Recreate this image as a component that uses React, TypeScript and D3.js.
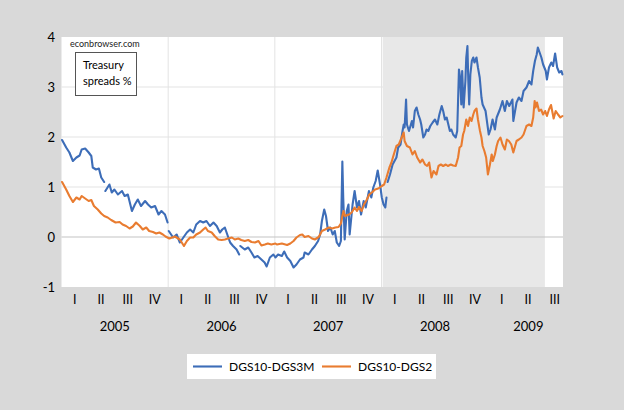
import React from "react";
import * as d3 from "d3";

// 10-year minus 3-month Treasury spread (percentage points); null = missing day
const dgs10Dgs3m: [string, number | null][] = [
  ["2005-01-03", 1.94], ["2005-01-17", 1.79], ["2005-01-28", 1.69], ["2005-02-09", 1.52],
  ["2005-02-21", 1.59], ["2005-03-04", 1.63], ["2005-03-11", 1.75], ["2005-03-23", 1.77],
  ["2005-04-04", 1.69], ["2005-04-13", 1.62], ["2005-04-18", 1.39], ["2005-04-29", 1.35],
  ["2005-05-09", 1.37], ["2005-05-17", 1.19], ["2005-05-27", 1.10], ["2005-05-30", null],
  ["2005-05-31", 0.92], ["2005-06-14", 1.05], ["2005-06-22", 0.89], ["2005-07-01", 0.95],
  ["2005-07-13", 0.85], ["2005-07-27", 0.92], ["2005-08-05", 0.82], ["2005-08-16", 0.85],
  ["2005-08-30", 0.52], ["2005-09-09", 0.65], ["2005-09-19", 0.75], ["2005-09-30", 0.62],
  ["2005-10-14", 0.72], ["2005-10-24", 0.65], ["2005-11-04", 0.59], ["2005-11-17", 0.62],
  ["2005-11-29", 0.45], ["2005-12-09", 0.52], ["2005-12-21", 0.45], ["2005-12-30", 0.29],
  ["2006-01-02", null],
  ["2006-01-03", 0.12], ["2006-01-18", -0.01], ["2006-01-30", 0.05], ["2006-02-10", -0.11],
  ["2006-02-22", -0.01], ["2006-03-06", 0.09], ["2006-03-17", 0.15], ["2006-03-28", 0.09],
  ["2006-04-07", 0.25], ["2006-04-20", 0.32], ["2006-05-01", 0.29], ["2006-05-12", 0.32],
  ["2006-05-24", 0.22], ["2006-06-05", 0.29], ["2006-06-16", 0.22], ["2006-06-27", 0.09],
  ["2006-07-05", 0.15], ["2006-07-14", 0.19], ["2006-07-24", 0.02], ["2006-08-01", -0.11],
  ["2006-08-11", -0.18], ["2006-08-23", -0.25], ["2006-09-01", -0.35], ["2006-09-04", null],
  ["2006-09-05", -0.18], ["2006-09-20", -0.25], ["2006-10-02", -0.21], ["2006-10-13", -0.31],
  ["2006-10-23", -0.41], ["2006-11-03", -0.38], ["2006-11-16", -0.45], ["2006-11-27", -0.51],
  ["2006-12-04", -0.59], ["2006-12-15", -0.41], ["2006-12-27", -0.35],
  ["2007-01-03", -0.41], ["2007-01-12", -0.35], ["2007-01-25", -0.38], ["2007-02-02", -0.29],
  ["2007-02-12", -0.41], ["2007-02-23", -0.48], ["2007-03-06", -0.61], ["2007-03-16", -0.55],
  ["2007-03-28", -0.45], ["2007-04-09", -0.41], ["2007-04-13", -0.31], ["2007-04-26", -0.35],
  ["2007-05-08", -0.25], ["2007-05-18", -0.18], ["2007-05-29", -0.08], ["2007-06-05", 0.05],
  ["2007-06-11", 0.32], ["2007-06-19", 0.55], ["2007-06-25", 0.42], ["2007-07-02", 0.12],
  ["2007-07-10", 0.19], ["2007-07-18", 0.05], ["2007-07-25", 0.12], ["2007-08-01", -0.11],
  ["2007-08-09", -0.18], ["2007-08-15", -0.08], ["2007-08-17", 0.59], ["2007-08-20", 1.51],
  ["2007-08-23", 0.79], ["2007-08-28", -0.05], ["2007-09-04", 0.52], ["2007-09-10", 0.65],
  ["2007-09-14", 0.05], ["2007-09-24", 0.65], ["2007-10-01", 0.92], ["2007-10-09", 0.59],
  ["2007-10-16", 0.72], ["2007-10-23", 0.45], ["2007-11-01", 0.72], ["2007-11-08", 0.59],
  ["2007-11-19", 0.92], ["2007-11-27", 0.79], ["2007-12-04", 0.99], ["2007-12-12", 1.12],
  ["2007-12-19", 1.33], ["2007-12-27", 1.05],
  ["2008-01-02", 0.79], ["2008-01-08", 0.65], ["2008-01-14", 0.59], ["2008-01-18", 0.79],
  ["2008-01-21", null],
  ["2008-01-22", 1.10], ["2008-01-30", 1.25], ["2008-02-08", 1.45], ["2008-02-21", 1.59],
  ["2008-02-27", 1.79], ["2008-03-06", 1.85], ["2008-03-13", 2.12], ["2008-03-17", 2.25],
  ["2008-03-20", 2.19], ["2008-03-25", 2.75], ["2008-03-28", 2.25], ["2008-04-04", 2.12],
  ["2008-04-14", 2.32], ["2008-04-18", 2.19], ["2008-04-24", 2.52], ["2008-04-30", 2.59],
  ["2008-05-06", 2.45], ["2008-05-12", 2.35], ["2008-05-16", 2.25], ["2008-05-23", 1.99],
  ["2008-05-29", 2.05], ["2008-06-03", 2.15], ["2008-06-09", 2.12], ["2008-06-16", 2.22],
  ["2008-06-24", 2.29], ["2008-07-02", 2.35], ["2008-07-10", 2.25], ["2008-07-17", 2.45],
  ["2008-07-25", 2.62], ["2008-07-30", 2.52], ["2008-08-05", 2.35], ["2008-08-11", 2.39],
  ["2008-08-15", 2.29], ["2008-08-22", 2.12], ["2008-08-27", 2.15], ["2008-09-02", 2.05],
  ["2008-09-11", 1.99], ["2008-09-16", 2.12], ["2008-09-22", 3.35], ["2008-09-26", 3.19],
  ["2008-09-30", 2.65], ["2008-10-03", 3.32], ["2008-10-08", 2.59], ["2008-10-14", 3.12],
  ["2008-10-17", 3.59], ["2008-10-21", 3.82], ["2008-10-24", 3.12], ["2008-10-27", 2.65],
  ["2008-10-31", 3.25], ["2008-11-05", 3.52], ["2008-11-10", 3.59], ["2008-11-14", 3.49],
  ["2008-11-21", 3.59], ["2008-11-26", 3.39], ["2008-12-02", 3.19], ["2008-12-08", 2.79],
  ["2008-12-12", 2.65], ["2008-12-22", 2.52], ["2008-12-29", 2.22],
  ["2009-01-02", 2.05], ["2009-01-08", 2.15], ["2009-01-15", 2.35], ["2009-01-23", 2.15],
  ["2009-01-29", 2.39], ["2009-02-09", 2.55], ["2009-02-18", 2.72], ["2009-02-26", 2.52],
  ["2009-03-05", 2.72], ["2009-03-13", 2.62], ["2009-03-24", 2.75], ["2009-03-27", 2.32],
  ["2009-04-07", 2.69], ["2009-04-15", 2.79], ["2009-04-24", 2.72], ["2009-05-01", 2.92],
  ["2009-05-11", 2.99], ["2009-05-20", 3.12], ["2009-05-28", 3.05], ["2009-06-03", 3.32],
  ["2009-06-09", 3.52], ["2009-06-15", 3.65], ["2009-06-19", 3.79], ["2009-06-25", 3.69],
  ["2009-07-01", 3.59], ["2009-07-07", 3.45], ["2009-07-16", 3.32], ["2009-07-20", 3.15],
  ["2009-07-27", 3.39], ["2009-08-04", 3.49], ["2009-08-10", 3.42], ["2009-08-17", 3.67],
  ["2009-08-24", 3.39], ["2009-08-31", 3.29], ["2009-09-08", 3.32], ["2009-09-11", 3.25],
];

// 10-year minus 2-year Treasury spread (percentage points)
const dgs10Dgs2: [string, number | null][] = [
  ["2005-01-03", 1.10], ["2005-01-17", 0.95], ["2005-01-28", 0.82], ["2005-02-09", 0.70],
  ["2005-02-21", 0.79], ["2005-03-04", 0.75], ["2005-03-11", 0.82], ["2005-03-23", 0.77],
  ["2005-04-04", 0.72], ["2005-04-13", 0.74], ["2005-04-22", 0.62], ["2005-05-05", 0.55],
  ["2005-05-17", 0.47], ["2005-05-27", 0.42], ["2005-06-08", 0.39], ["2005-06-20", 0.34],
  ["2005-07-05", 0.29], ["2005-07-19", 0.30], ["2005-07-29", 0.25], ["2005-08-10", 0.22],
  ["2005-08-22", 0.17], ["2005-09-02", 0.21], ["2005-09-13", 0.29], ["2005-09-26", 0.22],
  ["2005-10-06", 0.15], ["2005-10-18", 0.19], ["2005-10-28", 0.12], ["2005-11-10", 0.10],
  ["2005-11-21", 0.07], ["2005-12-02", 0.09], ["2005-12-14", 0.05], ["2005-12-23", 0.01],
  ["2006-01-05", -0.03], ["2006-01-24", 0.01], ["2006-02-10", -0.05], ["2006-02-24", -0.18],
  ["2006-03-06", -0.08], ["2006-03-17", -0.01], ["2006-03-28", -0.01], ["2006-04-07", 0.05],
  ["2006-04-20", 0.09], ["2006-05-01", 0.15], ["2006-05-09", 0.19], ["2006-05-17", 0.12],
  ["2006-05-30", 0.09], ["2006-06-09", 0.02], ["2006-06-21", -0.05], ["2006-07-03", -0.06],
  ["2006-07-14", -0.05], ["2006-07-25", -0.03], ["2006-08-07", -0.01], ["2006-08-17", -0.05],
  ["2006-08-29", -0.03], ["2006-09-08", -0.06], ["2006-09-20", -0.08], ["2006-10-02", -0.06],
  ["2006-10-13", -0.10], ["2006-10-25", -0.11], ["2006-11-06", -0.08], ["2006-11-16", -0.17],
  ["2006-11-28", -0.15], ["2006-12-08", -0.13], ["2006-12-20", -0.15],
  ["2007-01-03", -0.13], ["2007-01-08", -0.15], ["2007-01-25", -0.13], ["2007-02-12", -0.16],
  ["2007-02-23", -0.13], ["2007-03-06", -0.08], ["2007-03-16", -0.01], ["2007-03-28", 0.04],
  ["2007-04-05", 0.05], ["2007-04-13", 0.00], ["2007-04-26", 0.02], ["2007-05-08", -0.03],
  ["2007-05-18", -0.05], ["2007-05-31", 0.00], ["2007-06-11", 0.12], ["2007-06-22", 0.15],
  ["2007-07-05", 0.19], ["2007-07-16", 0.17], ["2007-07-27", 0.19], ["2007-08-07", 0.20],
  ["2007-08-15", 0.27], ["2007-08-20", 0.42], ["2007-08-24", 0.52], ["2007-08-29", 0.42],
  ["2007-09-12", 0.45], ["2007-09-21", 0.49], ["2007-10-01", 0.59], ["2007-10-09", 0.52],
  ["2007-10-16", 0.60], ["2007-10-25", 0.52], ["2007-11-02", 0.65], ["2007-11-12", 0.75],
  ["2007-11-20", 0.85], ["2007-11-29", 0.89], ["2007-12-10", 0.95], ["2007-12-21", 0.97],
  ["2008-01-02", 1.02], ["2008-01-10", 1.05], ["2008-01-18", 1.19], ["2008-01-28", 1.39],
  ["2008-02-04", 1.49], ["2008-02-12", 1.65], ["2008-02-21", 1.82], ["2008-02-29", 1.85],
  ["2008-03-10", 1.99], ["2008-03-17", 2.09], ["2008-03-20", 1.92], ["2008-03-28", 1.82],
  ["2008-04-07", 1.79], ["2008-04-16", 1.65], ["2008-04-24", 1.72], ["2008-05-02", 1.59],
  ["2008-05-12", 1.49], ["2008-05-20", 1.55], ["2008-05-29", 1.45], ["2008-06-05", 1.42],
  ["2008-06-12", 1.49], ["2008-06-20", 1.19], ["2008-06-27", 1.32], ["2008-07-07", 1.25],
  ["2008-07-14", 1.42], ["2008-07-22", 1.45], ["2008-07-30", 1.42], ["2008-08-08", 1.45],
  ["2008-08-15", 1.42], ["2008-08-25", 1.45], ["2008-09-02", 1.43], ["2008-09-11", 1.42],
  ["2008-09-19", 1.59], ["2008-09-24", 1.79], ["2008-09-30", 1.82], ["2008-10-06", 2.05],
  ["2008-10-10", 2.12], ["2008-10-17", 2.35], ["2008-10-23", 2.22], ["2008-10-29", 2.39],
  ["2008-11-04", 2.32], ["2008-11-10", 2.45], ["2008-11-14", 2.52], ["2008-11-21", 2.57],
  ["2008-11-26", 2.35], ["2008-12-03", 2.12], ["2008-12-08", 1.99], ["2008-12-12", 1.82],
  ["2008-12-18", 1.72], ["2008-12-24", 1.59], ["2008-12-30", 1.25],
  ["2009-01-06", 1.45], ["2009-01-12", 1.65], ["2009-01-16", 1.52], ["2009-01-23", 1.65],
  ["2009-01-29", 1.82], ["2009-02-03", 1.92], ["2009-02-11", 1.99], ["2009-02-18", 1.85],
  ["2009-02-26", 1.75], ["2009-03-05", 1.95], ["2009-03-12", 1.92], ["2009-03-20", 1.85],
  ["2009-03-27", 1.69], ["2009-04-07", 1.92], ["2009-04-15", 1.95], ["2009-04-24", 1.99],
  ["2009-05-01", 2.05], ["2009-05-11", 2.22], ["2009-05-20", 2.25], ["2009-05-28", 2.22],
  ["2009-06-03", 2.39], ["2009-06-08", 2.72], ["2009-06-11", 2.59], ["2009-06-16", 2.69],
  ["2009-06-23", 2.52], ["2009-06-30", 2.55], ["2009-07-07", 2.45], ["2009-07-14", 2.52],
  ["2009-07-20", 2.42], ["2009-07-27", 2.55], ["2009-08-03", 2.64], ["2009-08-07", 2.52],
  ["2009-08-12", 2.37], ["2009-08-19", 2.52], ["2009-08-27", 2.45], ["2009-09-04", 2.39],
  ["2009-09-11", 2.42],
];

const seriesNames = ["DGS10-DGS3M", "DGS10-DGS2"];
const seriesColors = ["#3d6db8", "#e97c30"];
const quarterLabels = ["I", "II", "III", "IV"];
const yearLabels = ["2005", "2006", "2007", "2008", "2009"];
const yTicks = [-1, 0, 1, 2, 3, 4];
const recession: [string, string] = ["2008-01-05", "2009-07-13"];
const axisDates: [string, string] = ["2005-01-01", "2009-09-13"];
const titleLines = ["Treasury", "spreads %"];
const sourceLabel = "econbrowser.com";

const W = 624;
const H = 410;
const plot = { left: 61.5, right: 563, top: 37, bottom: 287 };
const FONT = "Lato, 'Open Sans', sans-serif";

const parse = d3.utcParse("%Y-%m-%d");

type Pt = { date: Date; value: number | null };

export default function App() {
  const x = d3
    .scaleUtc()
    .domain(axisDates.map((s) => parse(s) as Date))
    .range([plot.left, plot.right]);
  const y = d3.scaleLinear().domain([-1, 4]).range([plot.bottom, plot.top]);

  const toPoints = (rows: [string, number | null][]): Pt[] =>
    rows.map(([d, v]) => ({ date: parse(d) as Date, value: v }));

  const line = d3
    .line<Pt>()
    .defined((p) => p.value !== null)
    .x((p) => x(p.date))
    .y((p) => y(p.value as number));

  const series = [toPoints(dgs10Dgs3m), toPoints(dgs10Dgs2)];

  const years = yearLabels.map((yl) => +yl);
  const axisEnd = parse(axisDates[1]) as Date;
  const lastYear = years[years.length - 1];

  // quarter label centres; the final year only runs through its last started quarter
  const quarters: { label: string; cx: number }[] = [];
  years.forEach((yr) => {
    quarterLabels.forEach((ql, qi) => {
      const s = new Date(Date.UTC(yr, qi * 3, 1));
      const e = new Date(Date.UTC(yr, qi * 3 + 3, 1));
      if (s >= axisEnd) return;
      quarters.push({ label: ql, cx: (x(s) + x(e)) / 2 });
    });
  });
  const yearCenters = years.map((yr) => {
    const s = new Date(Date.UTC(yr, 0, 1));
    const e =
      yr === lastYear
        ? new Date(Date.UTC(yr, Math.ceil((axisEnd.getUTCMonth() + 1) / 3) * 3, 1))
        : new Date(Date.UTC(yr + 1, 0, 1));
    return (x(s) + x(e)) / 2;
  });

  const yearGrid = years.slice(1).map((yr) => x(new Date(Date.UTC(yr, 0, 1))));
  const rx0 = x(parse(recession[0]) as Date);
  const rx1 = x(parse(recession[1]) as Date);

  return (
    <svg
      width={W}
      height={H}
      style={{ position: "absolute", left: 0, top: 0, display: "block" }}
      fontFamily={FONT}
    >
      <rect x={0} y={0} width={W} height={H} fill="#d9d9d9" />
      <rect
        x={plot.left}
        y={plot.top}
        width={plot.right - plot.left}
        height={plot.bottom - plot.top}
        fill="#ffffff"
      />
      {yTicks
        .filter((v) => v > 0 && v < 4)
        .map((v) => (
          <line key={"h" + v} x1={plot.left} x2={plot.right} y1={y(v)} y2={y(v)} stroke="#e3e3e3" strokeWidth={1} />
        ))}
      {yearGrid.map((gx, i) => (
        <line key={"v" + i} x1={gx} x2={gx} y1={plot.top} y2={plot.bottom} stroke="#e3e3e3" strokeWidth={1} />
      ))}
      <rect x={rx0} y={plot.top} width={rx1 - rx0} height={plot.bottom - plot.top} fill="#e8e8e8" />
      <line x1={plot.left} x2={plot.right} y1={y(0)} y2={y(0)} stroke="#c4c4c4" strokeWidth={1.2} />

      {series.map((pts, i) => (
        <path
          key={seriesNames[i]}
          d={line(pts) || ""}
          fill="none"
          stroke={seriesColors[i]}
          strokeWidth={2.1}
          strokeLinejoin="round"
          strokeLinecap="round"
        />
      ))}

      {yTicks.map((v) => (
        <text key={"yl" + v} x={55} y={y(v) + 4.5} textAnchor="end" fontSize={13} fill="#000">
          {v}
        </text>
      ))}
      {quarters.map((q, i) => (
        <text key={"q" + i} x={q.cx} y={304} textAnchor="middle" fontSize={12.5} fill="#000">
          {q.label}
        </text>
      ))}
      {yearLabels.map((yl, i) => (
        <text key={"y" + yl} x={yearCenters[i]} y={331} textAnchor="middle" fontSize={13} fill="#000">
          {yl}
        </text>
      ))}

      <text x={70} y={47} fontSize={9} fill="#222">
        {sourceLabel}
      </text>
      <rect x={75.5} y={52.5} width={61} height={43} fill="#fff" stroke="#555" strokeWidth={1} />
      {titleLines.map((t, i) => (
        <text key={t} x={83} y={69 + i * 16} fontSize={11} fill="#000">
          {t}
        </text>
      ))}

      <rect x={187} y={354} width={249} height={25} fill="#fff" />
      {seriesNames.map((n, i) => {
        const lx = i === 0 ? 193 : 322;
        return (
          <g key={"lg" + n}>
            <line x1={lx} x2={lx + 29} y1={366.5} y2={366.5} stroke={seriesColors[i]} strokeWidth={2.1} />
            <text x={lx + 36} y={371} fontSize={12} fill="#000">
              {n}
            </text>
          </g>
        );
      })}
    </svg>
  );
}
